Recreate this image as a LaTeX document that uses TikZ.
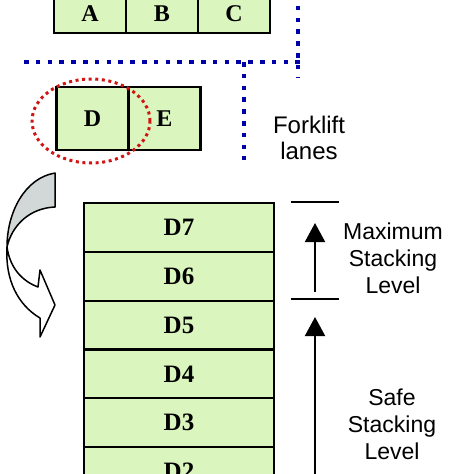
\documentclass[tikz,border=0pt]{standalone}
\usepackage{fontspec}
\setmainfont{Liberation Serif}
\setsansfont{Liberation Sans}
\usetikzlibrary{positioning,arrows.meta}
\definecolor{cratefill}{RGB}{218,245,190}
\definecolor{laneblue}{RGB}{0,0,170}
\definecolor{ringred}{RGB}{210,20,20}
\definecolor{flipgray}{RGB}{210,216,216}
\tikzset{crate/.style={draw, fill=cratefill, line width=2.8pt, outer sep=0pt, inner sep=0pt, minimum width=72pt, minimum height=63pt, font=\fontsize{24}{24}\selectfont\bfseries},
 layer/.style={crate, line width=2.2pt, minimum width=190pt, minimum height=48.8pt, font=\fontsize{25}{25}\selectfont\bfseries},
 lane/.style={laneblue, line width=4.5pt, dash pattern=on 4.5pt off 7.3pt},
 ring/.style={ringred, line width=3pt, dash pattern=on 3pt off 3.6pt},
 note/.style={align=center, font=\sffamily\fontsize{23}{27}\selectfont},
 level/.style={line width=2pt, -{Triangle[width=20pt,length=19pt]}},
 tick/.style={line width=2pt}}

\begin{document}
\begin{tikzpicture}[x=1pt,y=-1pt]
  \useasboundingbox (0,0) rectangle (474,474);
  \clip (0,0) rectangle (474,474);
  \node[crate, minimum height=39pt] (A) at (90,13.5) {A};
  \node[crate, minimum height=39pt, right=0pt of A] (B) {B};
  \node[crate, minimum height=39pt, right=0pt of B] (C) {C};
  \node[crate] (D) at (92.5,118.5) {D};
  \node[crate, right=0pt of D] (E) {E};
  \draw[ring] (D.center) ++(-1.5,2.5) ellipse [x radius=59pt, y radius=42pt];
  \coordinate (laneW) at (24,62);
  \coordinate (laneE) at (303,62);
  \coordinate (laneN) at (298,-6);
  \coordinate (laneNS) at (298,78);
  \coordinate (laneT) at (244,62);
  \coordinate (laneS) at (244,160);
  \draw[lane] (laneW) -- (laneE);
  \draw[lane] (laneN) -- (laneNS);
  \draw[lane] (laneT) -- (laneS);
  \node[note, font=\sffamily\fontsize{24}{26}\selectfont] (fork) at (309,138) {Forklift\\lanes};
  \draw[line width=1.5pt, fill=flipgray, line join=round] (55,173)
    .. controls (25,178) and (7,212) .. (7,247)
    .. controls (12,225) and (30,208) .. (55,207) -- cycle;
  \draw[line width=1.5pt, fill=white, line join=round] (7,247)
    .. controls (10,268) and (22,281) .. (38,287) -- (40,270) -- (55,305)
    -- (40,337) -- (40,318)
    .. controls (18,305) and (5,280) .. (7,247) -- cycle;
  \node[layer] (D7) at (179,227.4) {D7};
  \foreach \i/\j in {6/7,5/6,4/5,3/4,2/3}
    \node[layer, below=0pt of D\j] (D\i) {D\i};
  \coordinate (maxL) at (291,202);
  \coordinate (maxR) at (339,202);
  \coordinate (safeL) at (291,299);
  \coordinate (safeR) at (339,299);
  \draw[tick] (maxL) -- (maxR);
  \draw[tick] (safeL) -- (safeR);
  \coordinate (maxfoot) at (315,292);
  \coordinate (maxtip) at (315,223);
  \coordinate (safefoot) at (315,480);
  \coordinate (safetip) at (315,317);
  \draw[level] (maxfoot) -- (maxtip);
  \draw[level] (safefoot) -- (safetip);
  \node[note] (maxnote) at (393,258) {Maximum\\Stacking\\Level};
  \node[note] (safenote) at (392,424) {Safe\\Stacking\\Level};
\end{tikzpicture}
\end{document}
